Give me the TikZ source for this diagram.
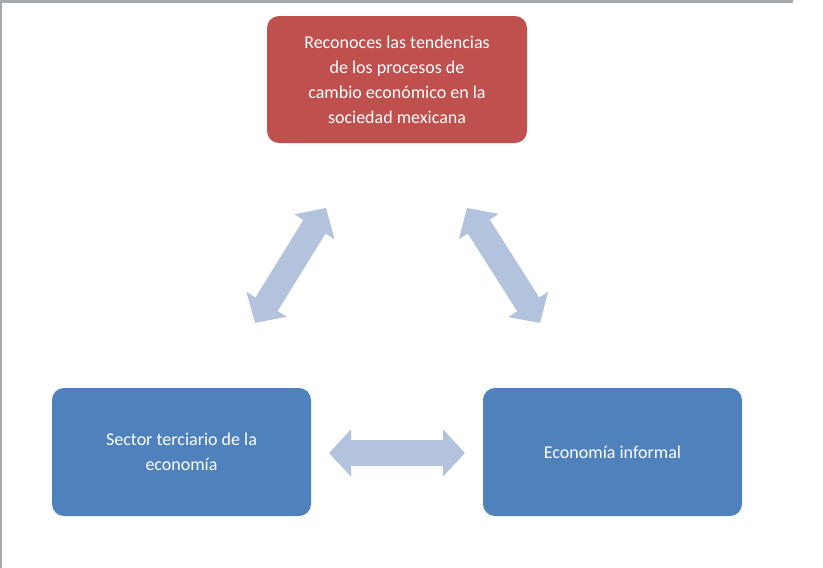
\documentclass[tikz,border=0pt]{standalone}
\usepackage{fontspec}
\setmainfont{Carlito}
\usetikzlibrary{arrows.meta}
\definecolor{redbox}{HTML}{C0504D}
\definecolor{bluebox}{HTML}{4F81BD}
\definecolor{arrowc}{HTML}{B3C3DD}
\definecolor{framec}{HTML}{A6A9AE}
\begin{document}
\begin{tikzpicture}[x=1pt,y=-1pt,
  box/.style={rounded corners=12pt,text=white,align=center,font=\fontsize{18}{25}\selectfont,inner sep=0pt},
  dbl/.style={draw=arrowc,line width=26pt,{Triangle[width=46pt 0,length=22pt 0]}-{Triangle[width=46pt 0,length=22pt 0]},shorten <=0pt}]
\useasboundingbox (0,0) rectangle (823,568);
\fill[white] (0,0) rectangle (823,568);
\fill[framec] (0,0) rectangle (793,3);
\fill[framec] (0,0) rectangle (2,568);
\node[box,fill=redbox,minimum width=260pt,minimum height=127pt] (top) at (397,79.5) {Reconoces las tendencias\\de los procesos de\\cambio económico en la\\sociedad mexicana};
\node[box,fill=bluebox,minimum width=259pt,minimum height=128pt] (left) at (181.5,452) {Sector terciario de la\\economía};
\node[box,fill=bluebox,minimum width=259pt,minimum height=128pt] (right) at (612.5,452) {Economía informal};
\coordinate (a1) at (255,323); \coordinate (a2) at (326,208);
\coordinate (b1) at (467,208); \coordinate (b2) at (540,323);
\coordinate (c1) at (329,453); \coordinate (c2) at (465,453);
\draw[dbl] (a1) -- (a2);
\draw[dbl] (b1) -- (b2);
\draw[dbl] (c1) -- (c2);
\end{tikzpicture}
\end{document}
